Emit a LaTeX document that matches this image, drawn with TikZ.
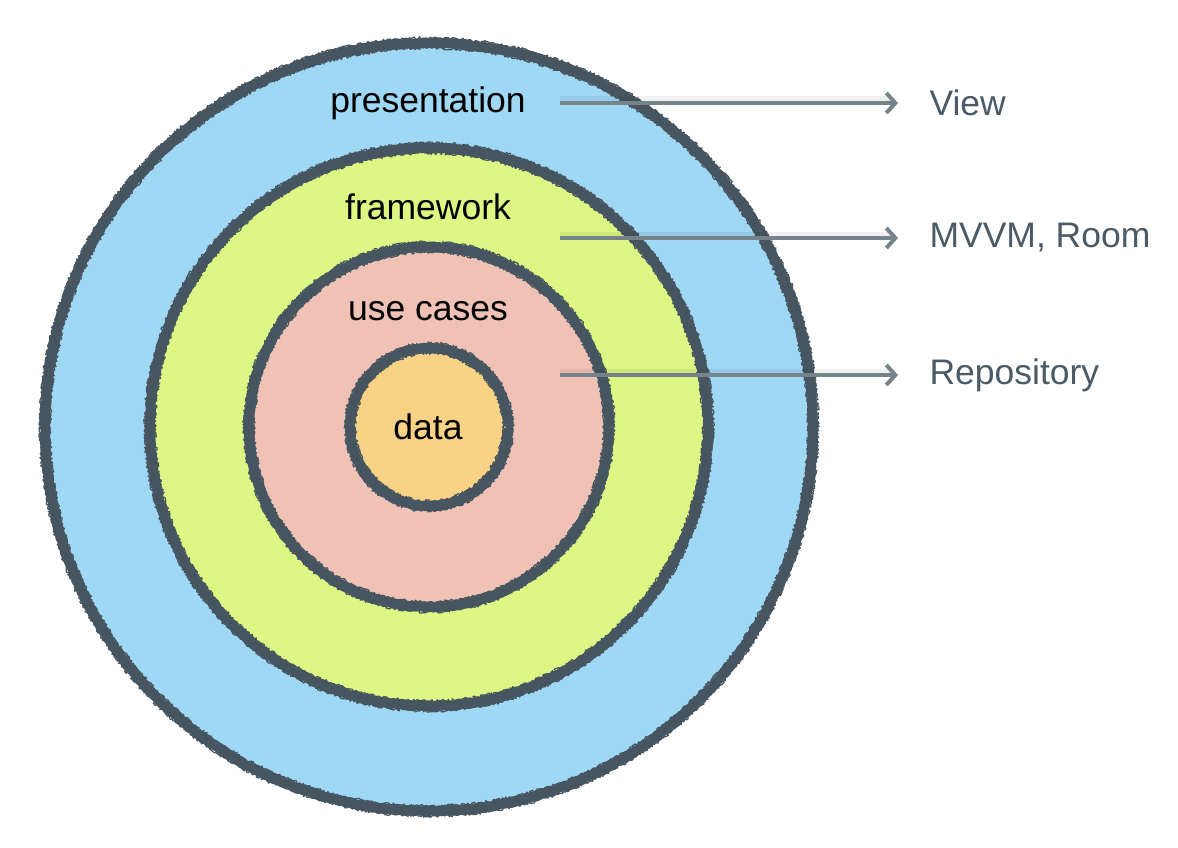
\documentclass[tikz,border=0pt]{standalone}
\usepackage{fontspec}
\setmainfont{Liberation Sans}
\usetikzlibrary{decorations.pathmorphing,arrows.meta}
\definecolor{ringborder}{HTML}{46555F}
\definecolor{cblue}{HTML}{9FD8F5}
\definecolor{cgreen}{HTML}{DCF784}
\definecolor{cpink}{HTML}{EFC2B5}
\definecolor{corange}{HTML}{F8D385}
\definecolor{arrowgray}{HTML}{77838B}
\definecolor{labelgray}{HTML}{4A5A66}
\tikzset{
  ring/.style={draw=ringborder, line width=10pt, line join=round, decoration={random steps,segment length=2pt,amplitude=0.8pt}, decorate},
  ringfuzz/.style={draw=ringborder, line width=1.2pt, line join=round, line cap=round, decoration={random steps,segment length=1.2pt,amplitude=1.6pt}, decorate},
  layer/.style={font=\fontsize{35.5}{40}\selectfont, text=black},
  side/.style={font=\fontsize{35.5}{40}\selectfont, text=labelgray, anchor=west},
  conn/.style={draw=arrowgray, line width=4pt, -{Straight Barb[length=9pt,width=20pt,line width=4pt]}},
  connshadow/.style={draw=black, line width=5pt, opacity=0.06}
}
\begin{document}
\begin{tikzpicture}[x=1pt,y=-1pt]
\useasboundingbox (0,0) rectangle (1178,848);
\coordinate (c) at (429,427);
% rings
\fill[cblue] (c) circle (384);
\fill[cgreen] (c) circle (279);
\fill[cpink] (c) circle (180);
\fill[corange] (c) circle (79);
\foreach \r in {384,279,180,79}{
  \draw[ring] (c) circle (\r);
  \draw[ringfuzz] (c) circle (\r+4.8);
  \draw[ringfuzz] (c) circle (\r-4.8);
}
% layer labels
\node[layer] (pres) at (428,103) {presentation};
\node[layer] (fw) at (428,207) {framework};
\node[layer] (uc) at (428,311) {use cases};
\node[layer] (data) at (428,427) {data};
% side labels
\node[side] (view) at (926,103) {View};
\node[side] (mvvm) at (926,238) {MVVM, Room};
\node[side] (repo) at (926,375) {Repository};
% arrow end points
\coordinate (s1) at (560,103);
\coordinate (s2) at (560,238);
\coordinate (s3) at (560,375);
\coordinate (e1) at (898,103);
\coordinate (e2) at (898,238);
\coordinate (e3) at (898,375);
\foreach \i in {1,2,3}{
  \draw[connshadow] ([yshift=4pt]s\i) -- ([yshift=4pt,xshift=-8pt]e\i);
  \draw[conn] (s\i) -- (e\i);
}
\end{tikzpicture}
\end{document}
